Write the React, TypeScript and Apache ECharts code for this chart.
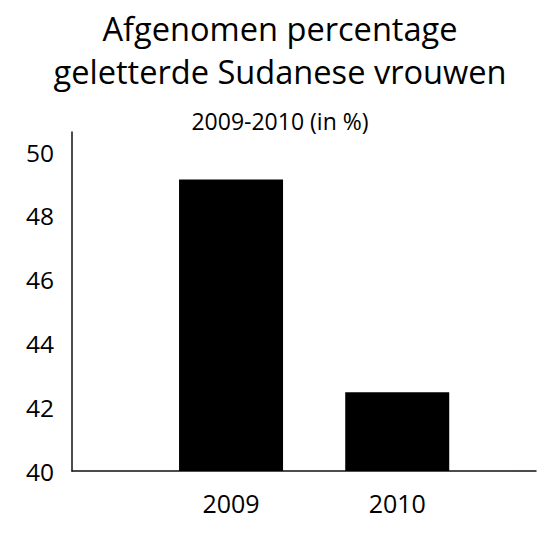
import React, { useEffect, useRef } from "react";
import * as echarts from "echarts";

const titleLines = ["Afgenomen percentage", "geletterde Sudanese vrouwen"];
const subtitle = "2009-2010 (in %)";
const years = [2009, 2010];
const values = [49.14, 42.47];
const yTicks = [40, 42, 44, 46, 48, 50];

const FONT = "'Open Sans', 'Noto Sans', sans-serif";

export default function App() {
  const ref = useRef<HTMLDivElement>(null);
  useEffect(() => {
    document.body.style.margin = "0";
    if (!ref.current) return;
    const chart = echarts.init(ref.current, null, { renderer: "svg" });
    chart.setOption({
      animation: false,
      backgroundColor: "#fff",
      textStyle: { fontFamily: FONT },
      title: [
        {
          text: titleLines.join("\n"),
          left: "center",
          top: 2,
          textStyle: {
            fontFamily: FONT,
            fontSize: 32.6,
            fontWeight: "normal",
            color: "#000",
            lineHeight: 43,
          },
        },
        {
          text: subtitle,
          left: "center",
          top: 104,
          textStyle: {
            fontFamily: FONT,
            fontSize: 23,
            fontWeight: "normal",
            color: "#000",
          },
        },
      ],
      grid: { left: 72, right: 24, top: 132, bottom: 64, containLabel: false },
      xAxis: {
        type: "value",
        min: 2008.043,
        max: 2010.835,
        splitLine: { show: false },
        axisTick: { show: false },
        axisLine: { show: true, lineStyle: { color: "#111", width: 1.5 } },
        axisLabel: {
          customValues: years,
          formatter: (v: number) => String(v),
          color: "#000",
          fontSize: 25,
          fontFamily: FONT,
          margin: 19,
          showMinLabel: true,
          showMaxLabel: true,
        },
      },
      yAxis: {
        type: "value",
        min: 40,
        max: 50.63,
        interval: 2,
        splitLine: { show: false },
        axisTick: { show: false },
        axisLine: { show: true, lineStyle: { color: "#111", width: 1.5 } },
        axisLabel: {
          customValues: yTicks,
          formatter: (v: number) => String(v),
          color: "#000",
          fontSize: 24.5,
          fontFamily: FONT,
          margin: 18,
        },
      },
      series: [
        {
          type: "bar",
          data: years.map((y, i) => [y, values[i]]),
          barWidth: 104,
          itemStyle: { color: "#000" },
          clip: true,
        },
      ],
    });
    return () => chart.dispose();
  }, []);
  return <div ref={ref} style={{ width: 560, height: 535 }} />;
}
